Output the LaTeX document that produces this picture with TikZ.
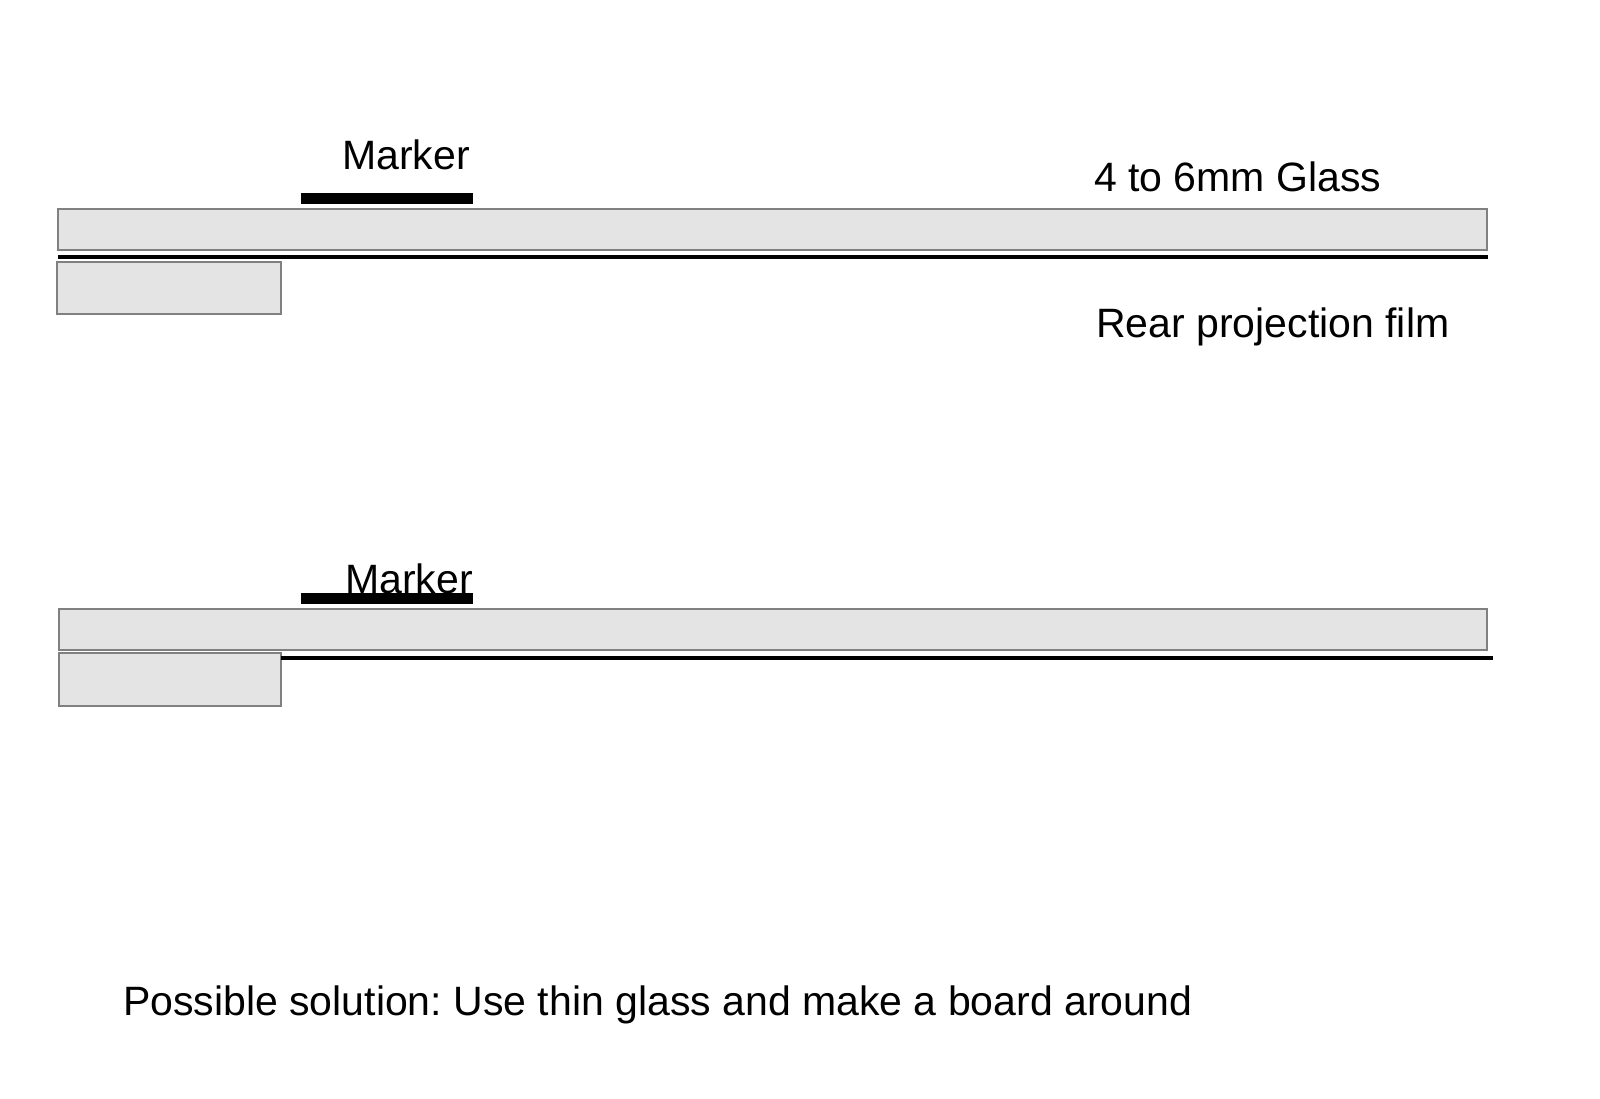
\documentclass[tikz,border=0pt]{standalone}
\usepackage{fontspec}
\setmainfont{Liberation Sans}
\usepackage{xcolor}
\usepackage{tikz}
\usetikzlibrary{calc}

\definecolor{glassfill}{HTML}{E4E4E4}
\definecolor{glassedge}{HTML}{808080}

\begin{document}
\frenchspacing
\begin{tikzpicture}[x=1pt,y=-1pt,
    glass/.style={draw=glassedge,fill=glassfill,line width=1.6pt},
    film/.style={line width=3.4pt},
    label/.style={anchor=base west,inner sep=0pt,font=\fontsize{41}{49}\selectfont}]
    \useasboundingbox (0,0) rectangle (1600,1099);

    % Upper sketch: glass, film and frame
    \draw[glass] (58,209) rectangle (1487,250);
    \draw[film] (58,257) -- (1488,257);
    \draw[glass] (57,262) rectangle (281,314);
    \fill[black] (301,193) rectangle (473,204);
    \node[label] (markerA) at (342,170) {Marker};
    \node[label] (glassLabel) at (1094,192) {4 to 6mm Glass};
    \node[label] (filmLabel) at (1096,337) {Rear projection film};

    % Lower sketch: film starts after the frame
    \draw[glass] (59,609) rectangle (1487,650);
    \draw[glass] (59,653) rectangle (281,706);
    \draw[film] (281,658) -- (1493,658);
    \fill[black] (301,593) rectangle (473,604);
    \node[label] (markerB) at (345,593) {Marker};

    % Note
    \node[label] (solution) at (123,1015) {Possible solution: Use thin glass and make a board around};
\end{tikzpicture}
\end{document}
